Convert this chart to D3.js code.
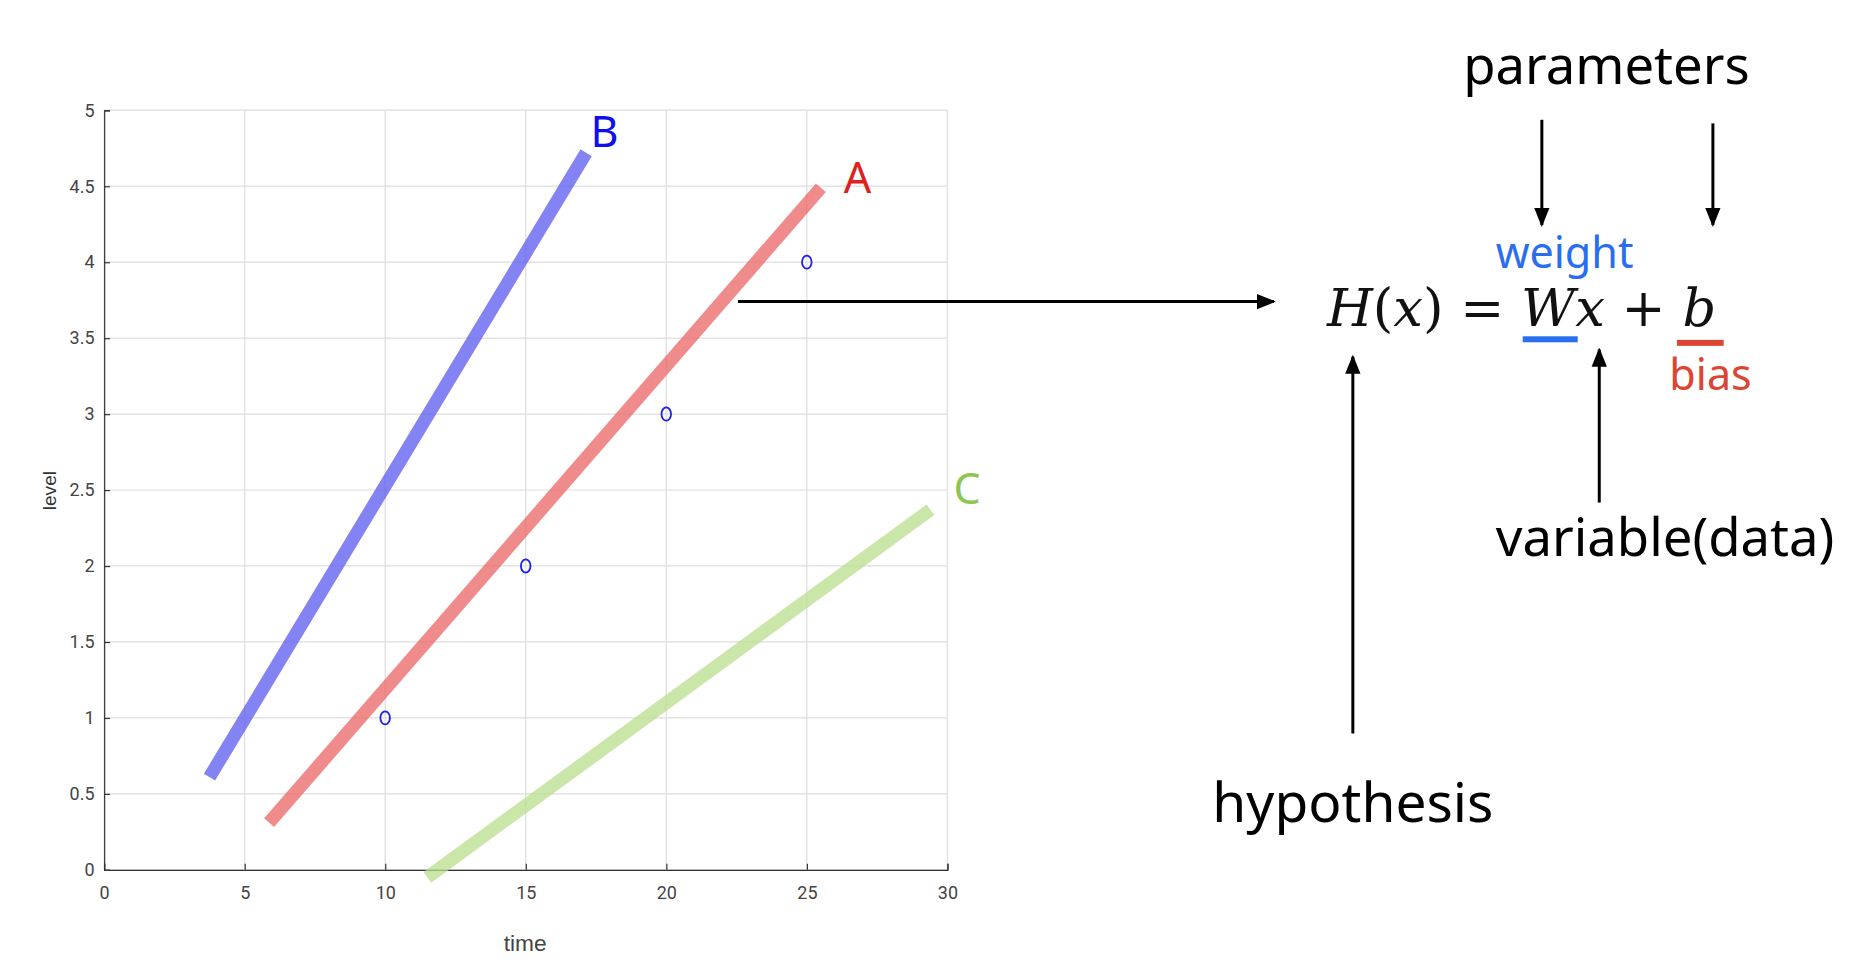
<!DOCTYPE html><html><head><meta charset="utf-8"><script src="https://d3js.org/d3.v7.min.js"></script>
<style>body{margin:0;background:#fff}</style></head><body><svg id="c" width="1866" height="980" viewBox="0 0 1560 819"></svg>
<script>
const xTicks=[0,5,10,15,20,25,30];
const yTicks=[0,0.5,1,1.5,2,2.5,3,3.5,4,4.5,5];
const yTickLabels=["0","0.5","1","1.5","2","2.5","3","3.5","4","4.5","5"];
const pointsX=[10,15,20,25];
const pointsY=[1,2,3,4];
const lineNames=["B","A","C"];
const lineStart=[[3.75,0.61],[5.87,0.31],[11.5,-0.05]];
const lineEnd=[[17.15,4.72],[25.5,4.49],[29.4,2.37]];
const lineColors=["rgba(90,90,240,0.75)","rgba(235,100,100,0.75)","rgba(185,222,140,0.75)"];
const labelColors=["#1010ee","#e02020","#8cc850"];
const labelPos=[[17.8,4.85],[26.8,4.55],[30.7,2.5]];

const svg=d3.select("#c");
const x=d3.scaleLinear().domain([0,30]).range([87,792]);
const y=d3.scaleLinear().domain([0,5]).range([727,92]);
const g=svg.append("g");
g.selectAll(".gx").data(xTicks).join("line").attr("x1",d=>x(d)).attr("x2",d=>x(d)).attr("y1",y(0)).attr("y2",y(5)).attr("stroke","#ddd");
g.selectAll(".gy").data(yTicks).join("line").attr("x1",x(0)).attr("x2",x(30)).attr("y1",d=>y(d)).attr("y2",d=>y(d)).attr("stroke","#ddd");
const xa=g.append("g").attr("transform",`translate(0,${y(0)})`).call(d3.axisBottom(x).tickValues(xTicks).tickSize(-5).tickPadding(14));
const ya=g.append("g").attr("transform",`translate(${x(0)},0)`).call(d3.axisLeft(y).tickValues(yTicks).tickFormat((d,i)=>yTickLabels[i]).tickSize(-5).tickPadding(8));
[xa,ya].forEach(a=>{a.selectAll("text").attr("font-family","Liberation Sans Narrow, Roboto, sans-serif").attr("font-size",15).attr("fill","#444");a.select(".domain").attr("stroke","#333");a.selectAll(".tick line").attr("stroke","#333");});
svg.append("text").attr("x",439).attr("y",795).attr("text-anchor","middle").attr("font-family","Liberation Sans Narrow, sans-serif").attr("font-size",19).attr("fill","#444").text("time");
svg.append("text").attr("transform","translate(47,410) rotate(-90)").attr("text-anchor","middle").attr("font-family","Liberation Sans, sans-serif").attr("font-size",16).attr("fill","#333").text("level");
g.selectAll(".ln").data(lineNames).join("line").attr("x1",(d,i)=>x(lineStart[i][0])).attr("y1",(d,i)=>y(lineStart[i][1])).attr("x2",(d,i)=>x(lineEnd[i][0])).attr("y2",(d,i)=>y(lineEnd[i][1])).attr("stroke",(d,i)=>lineColors[i]).attr("stroke-width",11);
g.selectAll(".lb").data(lineNames).join("text").attr("x",(d,i)=>x(labelPos[i][0])).attr("y",(d,i)=>y(labelPos[i][1])+12).attr("text-anchor","middle").attr("font-family","Noto Sans, sans-serif").attr("font-size",36).attr("fill",(d,i)=>labelColors[i]).text(d=>d);
g.selectAll(".pt").data(pointsX).join("ellipse").attr("cx",d=>x(d)).attr("cy",(d,i)=>y(pointsY[i])).attr("rx",4).attr("ry",5.5).attr("fill","none").attr("stroke","#2020ee").attr("stroke-width",1.5);

svg.append("defs").append("marker").attr("id","ah").attr("viewBox","0 0 10 10").attr("refX",9).attr("refY",5).attr("markerWidth",6).attr("markerHeight",6).attr("orient","auto-start-reverse").attr("markerUnits","userSpaceOnUse").attr("markerWidth",16).attr("markerHeight",16).append("path").attr("d","M0,1L10,5L0,9Z").attr("fill","#000");
const arrows=[[617,252,1065,252],[1289,100,1289,188],[1432,103,1432,188],[1337,420,1337,292],[1131,613,1131,298]];
svg.selectAll(".ar").data(arrows).join("line").attr("x1",d=>d[0]).attr("y1",d=>d[1]).attr("x2",d=>d[2]).attr("y2",d=>d[3]).attr("stroke","#000").attr("stroke-width",2.5).attr("marker-end","url(#ah)");
const T=(t,px,py,fs,col,fam)=>svg.append("text").attr("x",px).attr("y",py).attr("text-anchor","middle").attr("font-family",fam||"Noto Sans, sans-serif").attr("font-size",fs).attr("fill",col).text(t);
T("parameters",1343,70,44,"#000");
T("weight",1308,224,36,"#2a6ef0");
T("bias",1430,326,36,"#dd4433");
T("variable(data)",1392,465,44,"#000");
T("hypothesis",1131,687,46,"#000");
const f=svg.append("text").attr("x",1272).attr("y",272).attr("text-anchor","middle").attr("font-family","DejaVu Serif, serif").attr("font-size",44).attr("fill","#111");
f.append("tspan").attr("font-style","italic").text("H");f.append("tspan").text("(");f.append("tspan").attr("font-style","italic").text("x");f.append("tspan").text(") = ");f.append("tspan").attr("font-style","italic").text("Wx");f.append("tspan").text(" + ");f.append("tspan").attr("font-style","italic").text("b");
svg.append("rect").attr("x",1273).attr("y",281).attr("width",46).attr("height",5).attr("fill","#2a6ef0");
svg.append("rect").attr("x",1402).attr("y",284).attr("width",39).attr("height",5).attr("fill","#dd4433");
</script></body></html>
